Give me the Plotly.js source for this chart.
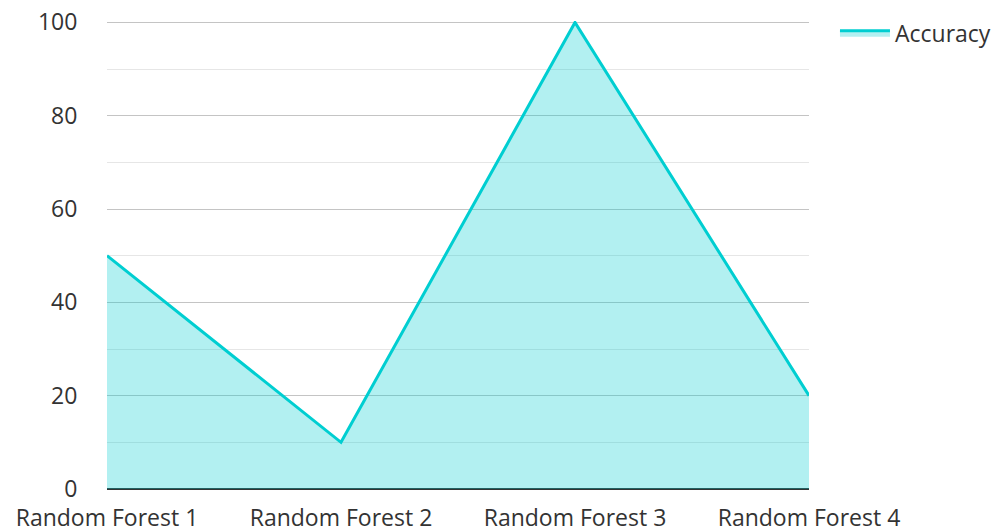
<!DOCTYPE html>
<html>
<head>
<meta charset="utf-8">
<script src="https://cdn.plot.ly/plotly-3.0.1.min.js"></script>
<style>html,body{margin:0;padding:0;background:#fff;}#chart{width:999px;height:528px;}</style>
</head>
<body>
<div id="chart"></div>
<script>
const categories = ["Random Forest 1", "Random Forest 2", "Random Forest 3", "Random Forest 4"];
const accuracy = [50, 10, 100, 20];
const seriesName = "Accuracy";
const yTicks = [0, 20, 40, 60, 80, 100];

const trace = {
  type: "scatter",
  mode: "lines",
  x: categories,
  y: accuracy,
  name: seriesName,
  fill: "tozeroy",
  fillcolor: "rgba(0,206,209,0.3)",
  line: {color: "#00CED1", width: 3},
  showlegend: true,
  cliponaxis: false
};

const layout = {
  width: 999,
  height: 528,
  margin: {l: 107, r: 190, t: 21, b: 39, autoexpand: false},
  paper_bgcolor: "#fff",
  plot_bgcolor: "#fff",
  font: {family: "Open Sans, Noto Sans, sans-serif", size: 23, color: "#333"},
  showlegend: true,
  legend: {x: 1.037, y: 0.975, xanchor: "left", yanchor: "middle", itemwidth: 50, font: {size: 23, color: "#333"}, bgcolor: "rgba(0,0,0,0)"},
  xaxis: {
    type: "category",
    range: [0, 3],
    showgrid: false,
    zeroline: false,
    showline: false,
    ticks: "outside",
    ticklen: 8,
    tickcolor: "rgba(0,0,0,0)",
    tickfont: {size: 23, color: "#333"},
    automargin: false,
    fixedrange: true
  },
  yaxis: {
    range: [0, 100.3],
    tickvals: yTicks,
    showgrid: true,
    gridcolor: "#c4c4c4",
    gridwidth: 1,
    minor: {dtick: 10, showgrid: true, gridcolor: "#e6e6e6", gridwidth: 1},
    zeroline: true,
    zerolinecolor: "#333",
    zerolinewidth: 2,
    showline: false,
    ticks: "outside",
    ticklen: 24,
    tickcolor: "rgba(0,0,0,0)",
    tickfont: {size: 23, color: "#333"},
    automargin: false,
    fixedrange: true
  }
};

Plotly.newPlot("chart", [trace], layout, {displayModeBar: false, staticPlot: true});
</script>
</body>
</html>
